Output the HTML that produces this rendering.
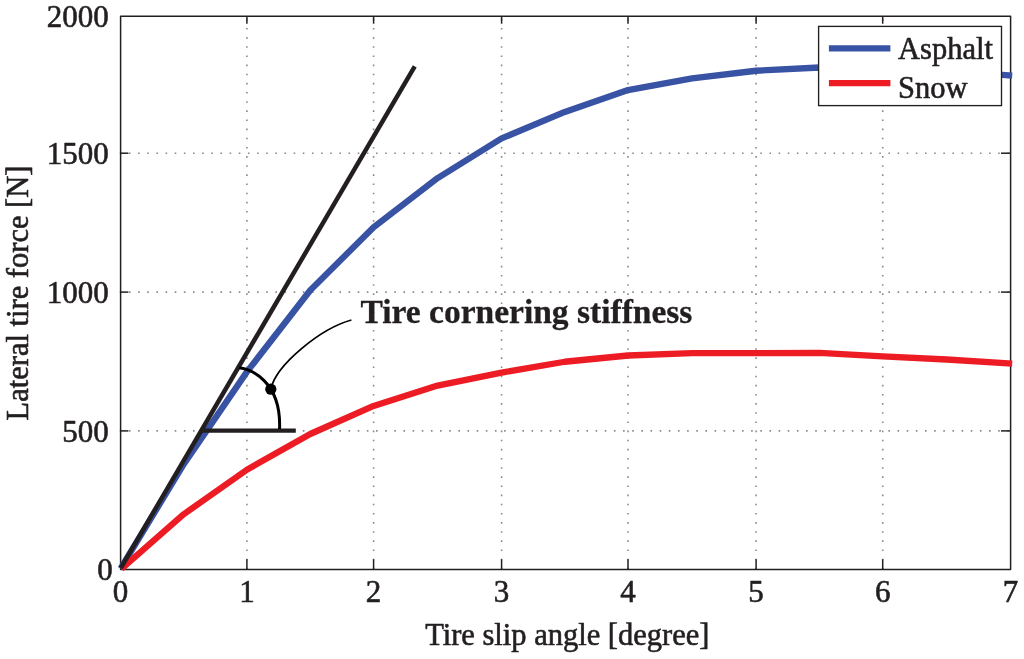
<!DOCTYPE html>
<html lang="en"><head><meta charset="utf-8"><title>Lateral tire force vs tire slip angle</title>
<style>
html,body{margin:0;padding:0;background:#fff;}
body{width:1024px;height:659px;overflow:hidden;}
svg{display:block;}
text{font-family:"Liberation Serif","Times New Roman",serif;fill:#231f20;stroke:#231f20;stroke-width:0.6px;stroke-linejoin:round;}
</style></head><body>
<svg width="1024" height="659" viewBox="0 0 1024 659">
<rect width="1024" height="659" fill="#fff"/>

<g stroke="#231f20" stroke-width="1.6" stroke-dasharray="1.6 7.55" fill="none" opacity="0.52">
<line x1="246.90" y1="569.40" x2="246.90" y2="16.20"/>
<line x1="373.60" y1="569.40" x2="373.60" y2="16.20"/>
<line x1="501.60" y1="569.40" x2="501.60" y2="16.20"/>
<line x1="628.00" y1="569.40" x2="628.00" y2="16.20"/>
<line x1="756.10" y1="569.40" x2="756.10" y2="16.20"/>
<line x1="882.70" y1="569.40" x2="882.70" y2="16.20"/>
<line x1="119.80" y1="430.90" x2="1010.60" y2="430.90"/>
<line x1="119.80" y1="292.10" x2="1010.60" y2="292.10"/>
<line x1="119.80" y1="153.20" x2="1010.60" y2="153.20"/>
</g>
<g stroke="#231f20" stroke-width="1.5" fill="none" stroke-linejoin="round">
<rect x="120.60" y="16.20" width="890.00" height="553.30"/>
<line x1="246.90" y1="569.50" x2="246.90" y2="559.30"/>
<line x1="246.90" y1="16.20" x2="246.90" y2="23.70"/>
<line x1="373.60" y1="569.50" x2="373.60" y2="559.30"/>
<line x1="373.60" y1="16.20" x2="373.60" y2="23.70"/>
<line x1="501.60" y1="569.50" x2="501.60" y2="559.30"/>
<line x1="501.60" y1="16.20" x2="501.60" y2="23.70"/>
<line x1="628.00" y1="569.50" x2="628.00" y2="559.30"/>
<line x1="628.00" y1="16.20" x2="628.00" y2="23.70"/>
<line x1="756.10" y1="569.50" x2="756.10" y2="559.30"/>
<line x1="756.10" y1="16.20" x2="756.10" y2="23.70"/>
<line x1="882.70" y1="569.50" x2="882.70" y2="559.30"/>
<line x1="882.70" y1="16.20" x2="882.70" y2="23.70"/>
<line x1="120.60" y1="430.90" x2="128.40" y2="430.90"/>
<line x1="1010.60" y1="430.90" x2="1001.00" y2="430.90"/>
<line x1="120.60" y1="292.10" x2="128.40" y2="292.10"/>
<line x1="1010.60" y1="292.10" x2="1001.00" y2="292.10"/>
<line x1="120.60" y1="153.20" x2="128.40" y2="153.20"/>
<line x1="1010.60" y1="153.20" x2="1001.00" y2="153.20"/>
</g>
<polyline points="120.60,568.60 183.75,464.20 246.90,371.90 310.25,290.30 373.60,227.20 437.60,178.10 501.60,138.40 564.80,111.90 628.00,90.10 692.05,78.30 756.10,70.75 819.40,67.50 882.70,68.00 946.65,70.60 1012.20,75.62" fill="none" stroke="#3953a4" stroke-width="6.3" stroke-linejoin="round"/>
<polyline points="121.40,568.90 183.75,514.20 246.90,469.70 310.25,434.00 373.60,405.90 437.60,385.60 501.60,372.60 564.80,361.75 628.00,355.50 692.05,353.10 756.10,353.10 819.40,352.90 882.70,356.40 946.65,359.50 1012.20,363.70" fill="none" stroke="#ed1c24" stroke-width="6.3" stroke-linejoin="round"/>
<line x1="120.8" y1="568.0" x2="414.75" y2="66.4" stroke="#231f20" stroke-width="4.5"/>
<line x1="201.0" y1="430.6" x2="295.8" y2="430.6" stroke="#231f20" stroke-width="4.3"/>
<path d="M238.98 367.76 C250.6 369.15 281.45 380.8 279.55 429" fill="none" stroke="#000" stroke-width="3"/>
<path d="M270.8 389.2 C275.9 364.8 320.85 328.4 351.4 320" fill="none" stroke="#000" stroke-width="1.8"/>
<circle cx="270.8" cy="389.2" r="5.6" fill="#000"/>
<rect x="818.6" y="26.4" width="182.9" height="79.2" fill="#fff" stroke="#231f20" stroke-width="1.35"/>
<line x1="828.9" y1="48.3" x2="890.4" y2="48.3" stroke="#3953a4" stroke-width="6.3"/>
<line x1="828.9" y1="83.1" x2="890.4" y2="83.1" stroke="#ed1c24" stroke-width="6.3"/>
<text x="898" y="59.0" font-size="30.50">Asphalt</text>
<text x="898" y="97.7" font-size="30.50">Snow</text>
<text x="108.8" y="442.10" font-size="31.00" text-anchor="end">500</text>
<text x="108.8" y="303.30" font-size="31.00" text-anchor="end">1000</text>
<text x="108.8" y="164.40" font-size="31.00" text-anchor="end">1500</text>
<text x="108.8" y="27.40" font-size="31.00" text-anchor="end">2000</text>
<text x="112.8" y="580.1" font-size="31.00" text-anchor="end">0</text>
<text x="120.60" y="601.7" font-size="31.00" text-anchor="middle">0</text>
<text x="246.90" y="601.7" font-size="31.00" text-anchor="middle">1</text>
<text x="373.60" y="601.7" font-size="31.00" text-anchor="middle">2</text>
<text x="501.60" y="601.7" font-size="31.00" text-anchor="middle">3</text>
<text x="628.00" y="601.7" font-size="31.00" text-anchor="middle">4</text>
<text x="756.10" y="601.7" font-size="31.00" text-anchor="middle">5</text>
<text x="882.70" y="601.7" font-size="31.00" text-anchor="middle">6</text>
<text x="1010.60" y="601.7" font-size="31.00" text-anchor="middle">7</text>
<text x="567.3" y="644.6" font-size="30.50" text-anchor="middle">Tire slip angle [degree]</text>
<text transform="translate(28.4 293.0) rotate(-90)" font-size="30.50" text-anchor="middle">Lateral tire force [N]</text>
<text x="360.5" y="322.85" font-size="33.5" font-weight="bold" style="stroke-width:0.3px">Tire cornering stiffness</text>
</svg></body></html>
